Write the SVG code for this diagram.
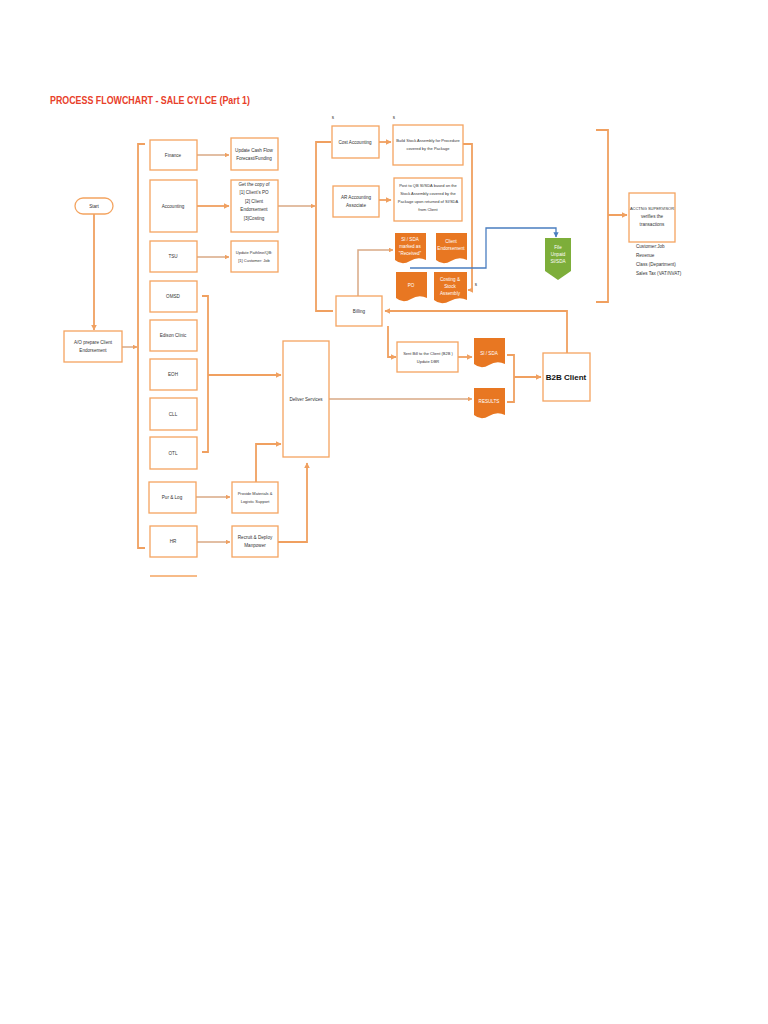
<svg xmlns="http://www.w3.org/2000/svg" width="768" height="1024" viewBox="0 0 768 1024">
<defs>
<marker id="a" viewBox="0 0 10 10" refX="9" refY="5" markerWidth="3.2" markerHeight="3.2" orient="auto"><path d="M0,0L10,5L0,10z" fill="#F0A060"/></marker>
<marker id="b" viewBox="0 0 10 10" refX="9" refY="5" markerWidth="4" markerHeight="4" orient="auto"><path d="M0,0L10,5L0,10z" fill="#4A7EC0"/></marker>
</defs>
<style>
.n{fill:#fff;stroke:#F4A460;stroke-width:1.3}
.d{fill:#E87722}
.t{font-family:"Liberation Sans",Arial,sans-serif;font-size:4.6px;fill:#333;text-anchor:middle}
.s{font-family:"Liberation Sans",Arial,sans-serif;font-size:4px;fill:#333;text-anchor:middle}
.w{font-family:"Liberation Sans",Arial,sans-serif;font-size:4.6px;fill:#fff;text-anchor:middle}
.c{fill:none;stroke:#F0A060;stroke-width:1.8}
.k{fill:none;stroke:#D9A985;stroke-width:1.5}
</style>
<rect width="768" height="1024" fill="#fff"/>
<text x="50" y="104" font-family="Liberation Sans,Arial,sans-serif" font-size="11" font-weight="bold" fill="#E8402A" textLength="200" lengthAdjust="spacingAndGlyphs">PROCESS FLOWCHART - SALE CYLCE (Part 1)</text>
<text x="333" y="119" class="t">s</text><text x="394" y="119" class="t">s</text><text x="476" y="286" class="t">s</text>
<g id="connectors">
<path class="c" d="M94,214V330" marker-end="url(#a)"/>
<path class="k" d="M122,347H137" marker-end="url(#a)"/>
<path class="c" d="M145,144H138V548H145"/>
<path class="k" d="M197,155H229" marker-end="url(#a)"/>
<path class="c" d="M197,206H229" marker-end="url(#a)"/>
<path class="k" d="M197,257H229" marker-end="url(#a)"/>
<path class="c" d="M202,296H208V452H202"/>
<path class="c" d="M208,375H281" marker-end="url(#a)"/>
<path class="k" d="M196,497H230" marker-end="url(#a)"/>
<path class="k" d="M197,542H230" marker-end="url(#a)"/>
<path class="c" d="M256,482V444H281" marker-end="url(#a)"/>
<path class="c" d="M278,542H307V463" marker-end="url(#a)"/>
<path class="k" d="M329,399H472" marker-end="url(#a)"/>
<path class="k" d="M278,206H315" marker-end="url(#a)"/>
<path class="c" d="M331,142H316V311H333"/>
<path class="c" d="M379,142H391" marker-end="url(#a)"/>
<path class="c" d="M379,200H391" marker-end="url(#a)"/>
<path class="c" d="M463,144H472V290H468" marker-end="url(#a)"/>
<path class="k" d="M358,296V250H393" marker-end="url(#a)"/>
<path class="c" d="M567,353V311H385" marker-end="url(#a)"/>
<path class="c" d="M388,326V357H396" marker-end="url(#a)"/>
<path class="c" d="M458,357H472" marker-end="url(#a)"/>
<path class="c" d="M507,355H514V402H507M514,377H541" marker-end="url(#a)"/>
<path class="c" d="M596,130H608V302H596M608,215H627" marker-end="url(#a)"/>
</g>
<g id="start"><rect x="75" y="198" width="38" height="16" rx="8" class="n"/><text x="94" y="208" class="t">Start</text></g>
<g id="ao"><rect x="64" y="331" width="58" height="31" class="n"/><text x="93" y="344" class="t">A/O prepare Client</text><text x="93" y="352" class="t">Endorsement</text></g>
<g id="finance"><rect x="150" y="140" width="47" height="30" class="n"/><text x="173" y="157" class="t">Finance</text></g>
<g id="accounting"><rect x="150" y="180" width="47" height="52" class="n"/><text x="173" y="208" class="t">Accounting</text></g>
<g id="tsu"><rect x="150" y="241" width="47" height="31" class="n"/><text x="173" y="258" class="t">TSU</text></g>
<g id="omsd"><rect x="150" y="281" width="47" height="31" class="n"/><text x="173" y="298" class="t">OMSD</text></g>
<g id="edison"><rect x="150" y="320" width="47" height="31" class="n"/><text x="173" y="337" class="t">Edison Clinic</text></g>
<g id="eoh"><rect x="150" y="359" width="47" height="31" class="n"/><text x="173" y="376" class="t">EOH</text></g>
<g id="cll"><rect x="150" y="398" width="47" height="32" class="n"/><text x="173" y="416" class="t">CLL</text></g>
<g id="otl"><rect x="150" y="437" width="47" height="32" class="n"/><text x="173" y="455" class="t">OTL</text></g>
<g id="purlog"><rect x="149" y="482" width="47" height="31" class="n"/><text x="172" y="499" class="t">Pur &amp; Log</text></g>
<g id="hr"><rect x="150" y="526" width="47" height="31" class="n"/><text x="173" y="543" class="t">HR</text></g>
<line x1="150" y1="576" x2="197" y2="576" stroke="#F4A460" stroke-width="1.3"/>
<g id="cashflow"><rect x="231" y="138" width="47" height="32" class="n"/><text x="254" y="152" class="t">Update Cash Flow</text><text x="254" y="160" class="t">Forecast/Funding</text></g>
<g id="getcopy"><rect x="231" y="180" width="47" height="52" class="n"/><text x="254" y="186" class="t">Get the copy of</text><text x="254" y="194" class="t">[1] Client's PO</text><text x="254" y="203" class="t">[2] Client</text><text x="254" y="211" class="t">Endorsement</text><text x="254" y="220" class="t">[3]Costing</text></g>
<g id="pathline"><rect x="231" y="241" width="47" height="31" class="n"/><text x="254" y="254" class="s">Update Pathline/QB:</text><text x="254" y="262" class="s">[1] Customer: Job</text></g>
<g id="provide"><rect x="232" y="482" width="46" height="31" class="n"/><text x="255" y="495" class="s">Provide Materials &amp;</text><text x="255" y="503" class="s">Logistic Support</text></g>
<g id="recruit"><rect x="232" y="526" width="46" height="31" class="n"/><text x="255" y="539" class="t">Recruit  &amp; Deploy</text><text x="255" y="547" class="t">Manpower</text></g>
<g id="deliver"><rect x="283" y="341" width="46" height="116" class="n"/><text x="306" y="401" class="t">Deliver Services</text></g>
<g id="cost"><rect x="332" y="126" width="47" height="32" class="n"/><text x="355" y="144" class="t">Cost Accounting</text></g>
<g id="ar"><rect x="333" y="186" width="46" height="31" class="n"/><text x="356" y="199" class="t">AR Accounting</text><text x="356" y="207" class="t">Associate</text></g>
<g id="build"><rect x="393" y="125" width="70" height="40" class="n"/><text x="428" y="142" class="s">Build Stock Assembly for Procedure</text><text x="428" y="150" class="s">covered by the Package</text></g>
<g id="post"><rect x="394" y="178" width="68" height="43" class="n"/><text x="428" y="187" class="s">Post  to QB SI/SDA based on the</text><text x="428" y="195" class="s">Stock Assembly covered by the</text><text x="428" y="203" class="s">Package upon returned of SI/SDA</text><text x="428" y="211" class="s">from Client</text></g>
<g id="sisda"><path class="d" d="M395,233H426V260Q418,256 410,261T395,260Z"/><text x="410" y="241" class="w">SI / SDA</text><text x="410" y="248" class="w">marked as</text><text x="410" y="255" class="w">"Received"</text></g>
<g id="clientend"><path class="d" d="M436,233H467V260Q459,256 451,261T436,260Z"/><text x="451" y="243" class="w">Client</text><text x="451" y="250" class="w">Endorsement</text></g>
<g id="po"><path class="d" d="M396,272H427V298Q419,294 411,299T396,298Z"/><text x="411" y="287" class="w">PO</text></g>
<g id="costing"><path class="d" d="M434,272H467V300Q459,296 450,301T434,300Z"/><text x="450" y="281" class="w">Costing &amp;</text><text x="450" y="288" class="w">Stock</text><text x="450" y="295" class="w">Assembly</text></g>
<g id="unpaid"><path d="M545,238H571V271L558,280L545,271Z" fill="#7DAE3A"/><text x="558" y="249" class="w">File</text><text x="558" y="256" class="w">Unpaid</text><text x="558" y="263" class="w">SI/SDA</text></g>
<path fill="none" stroke="#4A7EC0" stroke-width="1.3" d="M410,268H486V228H556V237" marker-end="url(#b)"/>
<g id="billing"><rect x="336" y="296" width="46" height="30" class="n"/><text x="359" y="313" class="t">Billing</text></g>
<g id="sentbill"><rect x="397" y="342" width="61" height="30" class="n"/><text x="428" y="355" class="s">Sent Bill to the Client (B2B )</text><text x="428" y="363" class="s">Update DBR</text></g>
<g id="sisda2"><path class="d" d="M474,338H505V364Q497,360 489,365T474,364Z"/><text x="489" y="355" class="w">SI / SDA</text></g>
<g id="results"><path class="d" d="M474,388H505V415Q497,411 489,416T474,415Z"/><text x="489" y="403" class="w">RESULTS</text></g>
<g id="b2b"><rect x="543" y="353" width="47" height="48" class="n"/><text x="566" y="380" font-family="Liberation Sans,Arial,sans-serif" font-size="8" font-weight="bold" fill="#111" text-anchor="middle">B2B Client</text></g>
<g id="supervisor"><rect x="629" y="193" width="46" height="49" class="n"/><text x="652" y="210" class="s">ACCTNG SUPERVISOR</text><text x="652" y="218" class="t">verifies the</text><text x="652" y="226" class="t">transactions</text></g>
<g id="notes" font-family="Liberation Sans,Arial,sans-serif" font-size="4.6" fill="#333"><text x="636" y="248">Customer:Job</text><text x="636" y="257">Revenue</text><text x="636" y="266">Class (Department)</text><text x="636" y="275">Sales Tax (VAT/NVAT)</text></g>
</svg>
